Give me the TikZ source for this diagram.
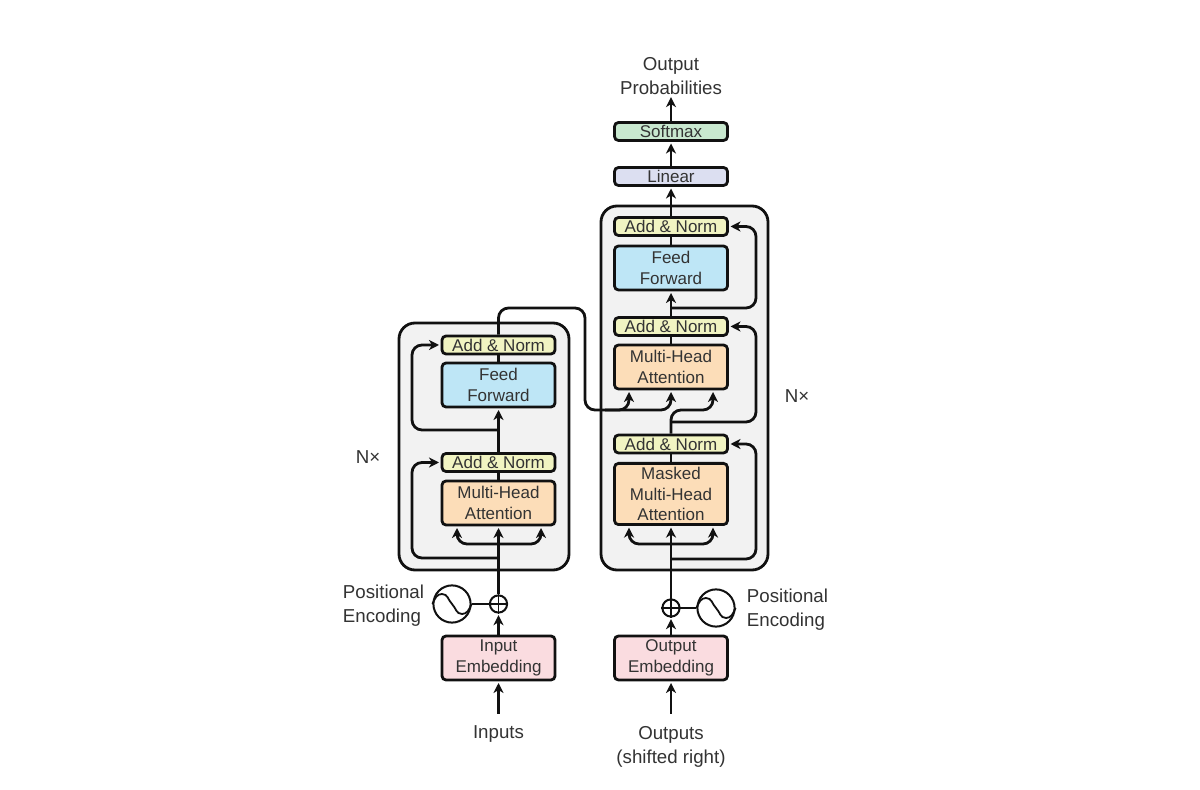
\documentclass[tikz,border=0pt]{standalone}
\usepackage{fontspec}
\setmainfont{Liberation Sans}
\usetikzlibrary{arrows.meta,calc}
\definecolor{cbox}{HTML}{F2F2F2}
\definecolor{cnorm}{HTML}{F1F4C2}
\definecolor{cff}{HTML}{BEE6F6}
\definecolor{cmha}{HTML}{FCDDB8}
\definecolor{cemb}{HTML}{FADCE0}
\definecolor{csoft}{HTML}{C8E8CF}
\definecolor{clin}{HTML}{DCDFF1}
\definecolor{cink}{HTML}{111111}
\tikzset{
  x=0.5pt,y=-0.5pt,
  lab/.style={font=\fontsize{9.35}{12}\selectfont,text=black!80,align=center,inner sep=0pt},
  blk/.style={draw=cink,line width=1.4pt,rounded corners=2pt,minimum width=56.5pt,inner sep=0pt,align=center,text=black!80,font=\fontsize{8.5}{10.2}\selectfont},
  normblk/.style={blk,fill=cnorm,minimum height=9pt},
  ffblk/.style={blk,fill=cff,minimum height=22pt},
  mhablk/.style={blk,fill=cmha,minimum height=22pt},
  embblk/.style={blk,fill=cemb,minimum height=22pt},
  group/.style={draw=cink,line width=1.4pt,fill=cbox,rounded corners=8pt,inner sep=0pt},
  conn/.style={draw=cink,line width=1.4pt,rounded corners=5pt},
  arr/.style={conn,-{Stealth[length=5pt,width=5pt,inset=1.5pt]},shorten >=0.8pt},
  plus/.style={circle,draw=cink,line width=1pt,fill=white,minimum size=8.6pt,inner sep=0pt},
  sine/.style={circle,draw=cink,line width=1pt,fill=white,minimum size=18.6pt,inner sep=0pt},
}
\newcommand{\sinecurve}[1]{%
  \draw[cink,line width=0.9pt] (#1.west)
    .. controls ($(#1.center)+(-17,-6)$) and ($(#1.center)+(-15,-10)$) .. ($(#1.center)+(-10,-10)$)
    .. controls ($(#1.center)+(-4,-10)$) and ($(#1.center)+(-4,-4)$) .. (#1.center)
    .. controls ($(#1.center)+(4,4)$) and ($(#1.center)+(4,10)$) .. ($(#1.center)+(10,10)$)
    .. controls ($(#1.center)+(15,10)$) and ($(#1.center)+(17,6)$) .. (#1.east);}
\newcommand{\plusmark}[1]{%
  \draw[cink,line width=0.8pt] (#1.west) -- (#1.east) (#1.north) -- (#1.south);}
\begin{document}
\begin{tikzpicture}
\useasboundingbox[fill=white] (0,0) rectangle (1200,790);
% group boxes
\node[group,minimum width=85pt,minimum height=123.5pt] (encbox) at (484,446.5) {};
\node[group,minimum width=83.5pt,minimum height=182pt] (decbox) at (684.5,388) {};
% encoder blocks
\node[embblk] (inemb) at (498.5,658) {Input\\Embedding};
\node[plus] (eplus) at (498.5,604) {};
\node[sine] (esine) at (452,604) {};
\node[mhablk] (emha) at (498.5,503) {Multi-Head\\Attention};
\node[normblk] (enorma) at (498.5,462.5) {Add \& Norm};
\node[ffblk] (eff) at (498.5,385) {Feed\\Forward};
\node[normblk] (enormb) at (498.5,345) {Add \& Norm};
% decoder blocks
\node[embblk] (outemb) at (671,658) {Output\\Embedding};
\node[plus] (dplus) at (671,608) {};
\node[sine] (dsine) at (716,608) {};
\node[blk,fill=cmha,minimum height=30.6pt] (dmask) at (671,494) {Masked\\Multi-Head\\Attention};
\node[normblk] (dnorma) at (671,444) {Add \& Norm};
\node[mhablk] (dmha) at (671,367) {Multi-Head\\Attention};
\node[normblk] (dnormb) at (671,326.5) {Add \& Norm};
\node[ffblk] (dff) at (671,268) {Feed\\Forward};
\node[normblk] (dnormc) at (671,226.5) {Add \& Norm};
\node[blk,fill=clin,minimum height=9pt] (linear) at (671,176.5) {Linear};
\node[blk,fill=csoft,minimum height=9pt] (softmax) at (671,131.5) {Softmax};
% labels
\node[lab] (inputs) at (498.5,734.5) {Inputs};
\node[lab] (outputs) at (671,746.5) {Outputs\\(shifted right)};
\node[lab] (probs) at (671,76.5) {Output\\Probabilities};
\node[lab,align=left] (epos) at (383.5,605.5) {Positional\\Encoding};
\node[lab,align=left] (dpos) at (787.5,609.5) {Positional\\Encoding};
\node[lab] (enx) at (368,457) {N×};
\node[lab] (dnx) at (797,396) {N×};
% glyphs
\sinecurve{esine}
\sinecurve{dsine}
\plusmark{eplus}
\plusmark{dplus}
% free coordinates
\coordinate (inbot) at (498.5,714);
\coordinate (outbot) at (671,714);
\coordinate (e1) at (498.5,558);
\coordinate (e1l) at (412,558);
\coordinate (e2) at (498.5,544);
\coordinate (e2l) at (457,544);
\coordinate (e2r) at (541,544);
\coordinate (e3) at (498.5,430);
\coordinate (e3l) at (412,430);
\coordinate (etop) at (498.5,308);
\coordinate (eright) at (585,308);
\coordinate (xlow) at (585,410);
\coordinate (xs) at (605,410);
\coordinate (xa) at (629,410);
\coordinate (xb) at (671,410);
\coordinate (xc) at (671,410);
\coordinate (xd) at (713,410);
\coordinate (d1) at (671,559);
\coordinate (d1r) at (756,559);
\coordinate (d2) at (671,544);
\coordinate (d2l) at (629,544);
\coordinate (d2r) at (713,544);
\coordinate (d3) at (671,422);
\coordinate (d3r) at (756,422);
\coordinate (d4) at (671,308);
\coordinate (d4r) at (756,308);
% encoder connectors
\draw[arr] (inbot) -- (inemb.south);
\draw[arr] (inemb.north) -- (eplus.south);
\draw[conn] (esine.east) -- (eplus.west);
\draw[arr] (eplus.north) -- (emha.south);
\draw[arr] (e1) -- (e1l) |- (enorma.west);
\draw[arr] (e2) -- (e2l) -- (emha.south -| e2l);
\draw[arr] (e2) -- (e2r) -- (emha.south -| e2r);
\draw[conn] (emha.north) -- (enorma.south);
\draw[arr] (enorma.north) -- (eff.south);
\draw[arr] (e3) -- (e3l) |- (enormb.west);
\draw[conn] (eff.north) -- (enormb.south);
\draw[conn] (enormb.north) -- (etop) -- (eright) -- (xlow) -- (xs);
\draw[arr] (xs) -- (xa) -- (dmha.south -| xa);
\draw[arr] (xs) -- (xb) -- (dmha.south -| xb);
% decoder connectors
\draw[arr] (outbot) -- (outemb.south);
\draw[arr] (outemb.north) -- (dplus.south);
\draw[conn] (dsine.west) -- (dplus.east);
\draw[arr] (dplus.north) -- (dmask.south);
\draw[arr] (d1) -- (d1r) |- (dnorma.east);
\draw[arr] (d2) -- (d2l) -- (dmask.south -| d2l);
\draw[arr] (d2) -- (d2r) -- (dmask.south -| d2r);
\draw[conn] (dmask.north) -- (dnorma.south);
\draw[arr] (dnorma.north) -- (xc) -- (xd) -- (dmha.south -| xd);
\draw[arr] (d3) -- (d3r) |- (dnormb.east);
\draw[conn] (dmha.north) -- (dnormb.south);
\draw[arr] (dnormb.north) -- (dff.south);
\draw[arr] (d4) -- (d4r) |- (dnormc.east);
\draw[conn] (dff.north) -- (dnormc.south);
\draw[arr] (dnormc.north) -- (linear.south);
\draw[arr] (linear.north) -- (softmax.south);
\draw[arr] (softmax.north) -- (probs.south);
\end{tikzpicture}
\end{document}
